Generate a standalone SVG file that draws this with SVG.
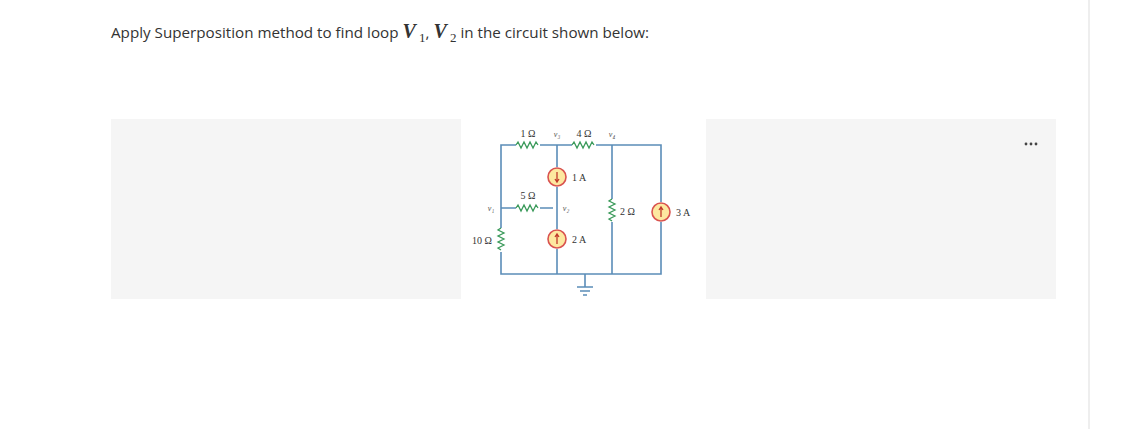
<svg xmlns="http://www.w3.org/2000/svg" width="1126" height="429" viewBox="0 0 1126 429">
<style>
.w{stroke:#5b8db8;stroke-width:1.6;fill:none}
.r{stroke:#3a9a5a;stroke-width:1.3;fill:none}
.t{font-family:"Liberation Serif",serif;font-size:10px;fill:#333}
.v{font-family:"Liberation Serif",serif;font-size:8px;font-style:italic;fill:#555}
.src{fill:#fde8a0;stroke:#d9534f;stroke-width:1.6}
.a{stroke:#c0392b;stroke-width:1.3;fill:none}
</style>
<rect width="1126" height="429" fill="#fff"/>
<text x="111" y="38" font-family="Open Sans,sans-serif" font-size="15.2" fill="#333">Apply Superposition method to find loop <tspan font-family="Liberation Serif,serif" font-weight="bold" font-style="italic" font-size="20">V</tspan><tspan font-family="Liberation Serif,serif" font-size="13" dy="4"> 1</tspan><tspan dy="-4">, </tspan><tspan font-family="Liberation Serif,serif" font-weight="bold" font-style="italic" font-size="20">V</tspan><tspan font-family="Liberation Serif,serif" font-size="13" dy="4"> 2</tspan><tspan dy="-4"> in the circuit shown below:</tspan></text>
<rect x="111" y="119" width="350" height="180" fill="#f5f5f5"/>
<rect x="706" y="119" width="350" height="180" fill="#f5f5f5"/>
<g fill="#444"><circle cx="1026" cy="144" r="1.4"/><circle cx="1031" cy="144" r="1.4"/><circle cx="1036" cy="144" r="1.4"/></g>
<line x1="1089" y1="0" x2="1089" y2="429" stroke="#ddd"/>
<g id="connectors">
<path class="w" d="M516,145 H501 V228 M501,252 V274 H661 V222 M661,202 V145 H596 M572,145 H540 M557,145 V167 M557,187 V229 M557,249 V274 M612,145 V199 M612,222 V274 M501,208 H516 M540,208 H553 M585,274 V287"/>
<path class="w" d="M577,287 H593 M580,291 H590 M583,295 H587" stroke="#3a9a5a"/>
</g>
<g id="r1"><path class="r" d="M516,145 l2,-3 l3,6 l3,-6 l3,6 l3,-6 l3,6 l3,-6 l2,3"/><text class="t" x="528" y="137" text-anchor="middle">1 Ω</text></g>
<g id="r4"><path class="r" d="M572,145 l2,-3 l3,6 l3,-6 l3,6 l3,-6 l3,6 l3,-6 l2,3"/><text class="t" x="584" y="137" text-anchor="middle">4 Ω</text></g>
<g id="r5"><path class="r" d="M516,208 l2,-3 l3,6 l3,-6 l3,6 l3,-6 l3,6 l3,-6 l2,3"/><text class="t" x="528" y="199" text-anchor="middle">5 Ω</text></g>
<g id="r10"><path class="r" d="M501,228 l-3,2 l6,3 l-6,3 l6,3 l-6,3 l6,3 l-6,3 l3,2"/><text class="t" x="492" y="244" text-anchor="end">10 Ω</text></g>
<g id="r2"><path class="r" d="M612,199 l-3,2 l6,3 l-6,3 l6,3 l-6,3 l6,3 l-6,3 l3,2"/><text class="t" x="620" y="215">2 Ω</text></g>
<g id="s1"><circle class="src" cx="557" cy="177" r="9"/><path class="a" d="M557,172 V182 M555,179 L557,182 L559,179"/><text class="t" x="572" y="181">1 A</text></g>
<g id="s2"><circle class="src" cx="557" cy="239" r="9"/><path class="a" d="M557,244 V234 M555,237 L557,234 L559,237"/><text class="t" x="572" y="243">2 A</text></g>
<g id="s3"><circle class="src" cx="661" cy="212" r="9"/><path class="a" d="M661,217 V207 M659,210 L661,207 L663,210"/><text class="t" x="676" y="216">3 A</text></g>
<g id="labels">
<text class="v" x="557" y="137" text-anchor="middle">v₃</text>
<text class="v" x="612" y="137" text-anchor="middle">v₄</text>
<text class="v" x="491" y="211" text-anchor="middle">v₁</text>
<text class="v" x="566" y="211" text-anchor="middle">v₂</text>
</g>
</svg>
